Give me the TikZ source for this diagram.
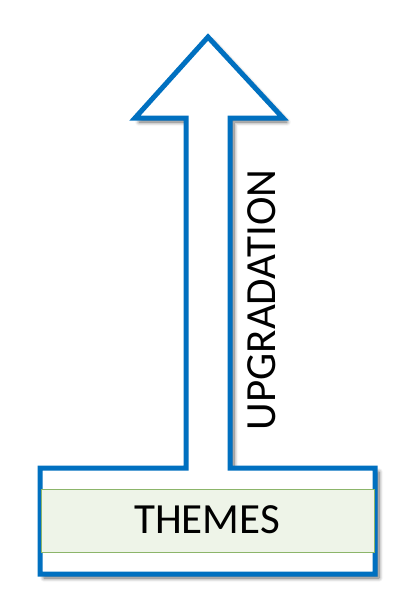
\documentclass[tikz,border=0pt]{standalone}
\usepackage{fontspec}
\setmainfont{Carlito}
\usetikzlibrary{shadows.blur}
\definecolor{arrowblue}{HTML}{0070C0}
\definecolor{bandfill}{HTML}{EEF4E8}
\definecolor{bandline}{HTML}{8CB56A}
\tikzset{
  outline/.style={line width=5pt,draw=arrowblue,fill=white,line join=miter,
    blur shadow={shadow xshift=4pt,shadow yshift=-4pt,shadow blur radius=4pt,shadow blur steps=8,shadow opacity=60}},
  band/.style={draw=bandline,line width=0.7pt,fill=bandfill},
  label/.style={font=\fontsize{43}{48}\selectfont,text=black,inner sep=0pt}
}
\begin{document}
\begin{tikzpicture}[x=1pt,y=-1pt]
                \useasboundingbox (0,0) rectangle (420,608);
                % arrow and base box as one outline
                \draw[outline] (40,574) -- (40,468) -- (186,468) -- (186,118)
                               -- (135,118) -- (208,37) -- (283,118) -- (230,118)
                               -- (230,468) -- (375,468) -- (375,574) -- cycle;
                \draw[band] (41,489) rectangle (374,552);
                \node[label] (themes) at (207,520) {THEMES};
                \node[label,rotate=90] (upgrade) at (262,300) {UPGRADATION};
            \end{tikzpicture}
\end{document}
